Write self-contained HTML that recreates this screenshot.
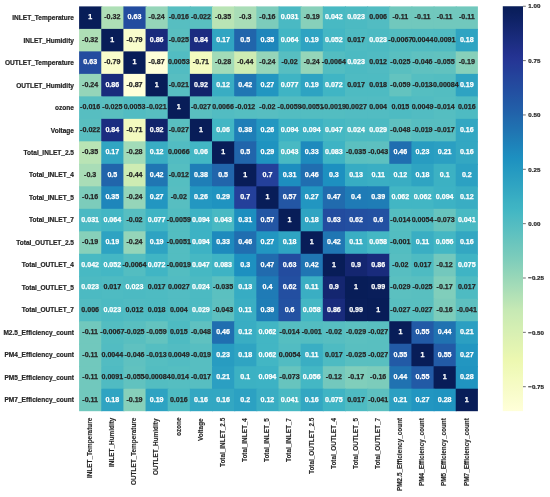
<!DOCTYPE html>
<html><head><meta charset="utf-8"><title>Correlation heatmap</title><style>
html,body{margin:0;padding:0;background:#fff;}
body{width:550px;height:497px;position:relative;overflow:hidden;font-family:"Liberation Sans",Arial,sans-serif;}
#pg{position:absolute;left:0;top:0;width:550px;height:497px;background:#fff;}
svg{position:absolute;left:0;top:0;}
.rl{position:absolute;font-weight:bold;-webkit-text-stroke:0.2px;font-size:6.55px;color:#262626;white-space:nowrap;text-align:right;line-height:1;}
.cl{position:absolute;font-weight:bold;-webkit-text-stroke:0.1px;font-size:6.40px;color:#262626;white-space:nowrap;line-height:1;transform-origin:0 0;transform:rotate(-90deg);}
.tk{position:absolute;height:0.8px;background:#444;}
.tl{position:absolute;font-weight:bold;-webkit-text-stroke:0.2px;font-size:6.20px;color:#262626;white-space:nowrap;line-height:1;}
</style></head><body>

<div id="pg">
<svg width="550" height="497" viewBox="0 0 550 497" font-family="Liberation Sans, Arial, sans-serif" font-weight="bold" font-size="7.10" text-anchor="middle">
<rect x="79.10" y="6.40" width="23.16" height="23.49" fill="#081d58"/>
<rect x="101.26" y="6.40" width="23.16" height="23.49" fill="#aedfb6"/>
<rect x="123.41" y="6.40" width="23.16" height="23.49" fill="#234c9f"/>
<rect x="145.57" y="6.40" width="23.16" height="23.49" fill="#95d5b9"/>
<rect x="167.72" y="6.40" width="23.16" height="23.49" fill="#57bec1"/>
<rect x="189.88" y="6.40" width="23.16" height="23.49" fill="#59bfc0"/>
<rect x="212.03" y="6.40" width="23.16" height="23.49" fill="#b9e4b5"/>
<rect x="234.19" y="6.40" width="23.16" height="23.49" fill="#a9ddb7"/>
<rect x="256.34" y="6.40" width="23.16" height="23.49" fill="#7cccbb"/>
<rect x="278.50" y="6.40" width="23.16" height="23.49" fill="#4ab9c3"/>
<rect x="300.66" y="6.40" width="23.16" height="23.49" fill="#87d0ba"/>
<rect x="322.81" y="6.40" width="23.16" height="23.49" fill="#48b9c3"/>
<rect x="344.97" y="6.40" width="23.16" height="23.49" fill="#4cbac2"/>
<rect x="367.12" y="6.40" width="23.16" height="23.49" fill="#52bcc2"/>
<rect x="389.28" y="6.40" width="23.16" height="23.49" fill="#71c8bd"/>
<rect x="411.43" y="6.40" width="23.16" height="23.49" fill="#71c8bd"/>
<rect x="433.59" y="6.40" width="23.16" height="23.49" fill="#71c8bd"/>
<rect x="455.74" y="6.40" width="22.16" height="23.49" fill="#71c8bd"/>
<rect x="79.10" y="28.89" width="23.16" height="23.49" fill="#aedfb6"/>
<rect x="101.26" y="28.89" width="23.16" height="23.49" fill="#081d58"/>
<rect x="123.41" y="28.89" width="23.16" height="23.49" fill="#f9fdcc"/>
<rect x="145.57" y="28.89" width="23.16" height="23.49" fill="#192b7c"/>
<rect x="167.72" y="28.89" width="23.16" height="23.49" fill="#59bfc0"/>
<rect x="189.88" y="28.89" width="23.16" height="23.49" fill="#1b2c80"/>
<rect x="212.03" y="28.89" width="23.16" height="23.49" fill="#31a5c2"/>
<rect x="234.19" y="28.89" width="23.16" height="23.49" fill="#2165ab"/>
<rect x="256.34" y="28.89" width="23.16" height="23.49" fill="#1e86bb"/>
<rect x="278.50" y="28.89" width="23.16" height="23.49" fill="#42b6c4"/>
<rect x="300.66" y="28.89" width="23.16" height="23.49" fill="#2ea3c2"/>
<rect x="322.81" y="28.89" width="23.16" height="23.49" fill="#44b7c4"/>
<rect x="344.97" y="28.89" width="23.16" height="23.49" fill="#4ebbc2"/>
<rect x="367.12" y="28.89" width="23.16" height="23.49" fill="#4cbac2"/>
<rect x="389.28" y="28.89" width="23.16" height="23.49" fill="#53bdc1"/>
<rect x="411.43" y="28.89" width="23.16" height="23.49" fill="#52bcc2"/>
<rect x="433.59" y="28.89" width="23.16" height="23.49" fill="#50bbc2"/>
<rect x="455.74" y="28.89" width="22.16" height="23.49" fill="#2fa4c2"/>
<rect x="79.10" y="51.38" width="23.16" height="23.49" fill="#234c9f"/>
<rect x="101.26" y="51.38" width="23.16" height="23.49" fill="#f9fdcc"/>
<rect x="123.41" y="51.38" width="23.16" height="23.49" fill="#081d58"/>
<rect x="145.57" y="51.38" width="23.16" height="23.49" fill="#ffffd9"/>
<rect x="167.72" y="51.38" width="23.16" height="23.49" fill="#52bcc2"/>
<rect x="189.88" y="51.38" width="23.16" height="23.49" fill="#f3fabf"/>
<rect x="212.03" y="51.38" width="23.16" height="23.49" fill="#a2dbb8"/>
<rect x="234.19" y="51.38" width="23.16" height="23.49" fill="#ceecb3"/>
<rect x="256.34" y="51.38" width="23.16" height="23.49" fill="#95d5b9"/>
<rect x="278.50" y="51.38" width="23.16" height="23.49" fill="#57bec1"/>
<rect x="300.66" y="51.38" width="23.16" height="23.49" fill="#95d5b9"/>
<rect x="322.81" y="51.38" width="23.16" height="23.49" fill="#53bdc1"/>
<rect x="344.97" y="51.38" width="23.16" height="23.49" fill="#4cbac2"/>
<rect x="367.12" y="51.38" width="23.16" height="23.49" fill="#50bbc2"/>
<rect x="389.28" y="51.38" width="23.16" height="23.49" fill="#59bfc0"/>
<rect x="411.43" y="51.38" width="23.16" height="23.49" fill="#5fc1c0"/>
<rect x="433.59" y="51.38" width="23.16" height="23.49" fill="#61c2bf"/>
<rect x="455.74" y="51.38" width="22.16" height="23.49" fill="#87d0ba"/>
<rect x="79.10" y="73.87" width="23.16" height="23.49" fill="#95d5b9"/>
<rect x="101.26" y="73.87" width="23.16" height="23.49" fill="#192b7c"/>
<rect x="123.41" y="73.87" width="23.16" height="23.49" fill="#ffffd9"/>
<rect x="145.57" y="73.87" width="23.16" height="23.49" fill="#081d58"/>
<rect x="167.72" y="73.87" width="23.16" height="23.49" fill="#57bec1"/>
<rect x="189.88" y="73.87" width="23.16" height="23.49" fill="#11246b"/>
<rect x="212.03" y="73.87" width="23.16" height="23.49" fill="#39adc3"/>
<rect x="234.19" y="73.87" width="23.16" height="23.49" fill="#2076b3"/>
<rect x="256.34" y="73.87" width="23.16" height="23.49" fill="#2296c1"/>
<rect x="278.50" y="73.87" width="23.16" height="23.49" fill="#3fb4c4"/>
<rect x="300.66" y="73.87" width="23.16" height="23.49" fill="#2ea3c2"/>
<rect x="322.81" y="73.87" width="23.16" height="23.49" fill="#40b5c4"/>
<rect x="344.97" y="73.87" width="23.16" height="23.49" fill="#4ebbc2"/>
<rect x="367.12" y="73.87" width="23.16" height="23.49" fill="#4ebbc2"/>
<rect x="389.28" y="73.87" width="23.16" height="23.49" fill="#63c3bf"/>
<rect x="411.43" y="73.87" width="23.16" height="23.49" fill="#55bec1"/>
<rect x="433.59" y="73.87" width="23.16" height="23.49" fill="#53bdc1"/>
<rect x="455.74" y="73.87" width="22.16" height="23.49" fill="#2ea3c2"/>
<rect x="79.10" y="96.36" width="23.16" height="23.49" fill="#57bec1"/>
<rect x="101.26" y="96.36" width="23.16" height="23.49" fill="#59bfc0"/>
<rect x="123.41" y="96.36" width="23.16" height="23.49" fill="#52bcc2"/>
<rect x="145.57" y="96.36" width="23.16" height="23.49" fill="#57bec1"/>
<rect x="167.72" y="96.36" width="23.16" height="23.49" fill="#081d58"/>
<rect x="189.88" y="96.36" width="23.16" height="23.49" fill="#59bfc0"/>
<rect x="212.03" y="96.36" width="23.16" height="23.49" fill="#52bcc2"/>
<rect x="234.19" y="96.36" width="23.16" height="23.49" fill="#55bec1"/>
<rect x="256.34" y="96.36" width="23.16" height="23.49" fill="#57bec1"/>
<rect x="278.50" y="96.36" width="23.16" height="23.49" fill="#53bdc1"/>
<rect x="300.66" y="96.36" width="23.16" height="23.49" fill="#53bdc1"/>
<rect x="322.81" y="96.36" width="23.16" height="23.49" fill="#53bdc1"/>
<rect x="344.97" y="96.36" width="23.16" height="23.49" fill="#52bcc2"/>
<rect x="367.12" y="96.36" width="23.16" height="23.49" fill="#52bcc2"/>
<rect x="389.28" y="96.36" width="23.16" height="23.49" fill="#4ebbc2"/>
<rect x="411.43" y="96.36" width="23.16" height="23.49" fill="#52bcc2"/>
<rect x="433.59" y="96.36" width="23.16" height="23.49" fill="#55bec1"/>
<rect x="455.74" y="96.36" width="22.16" height="23.49" fill="#4ebbc2"/>
<rect x="79.10" y="118.84" width="23.16" height="23.49" fill="#59bfc0"/>
<rect x="101.26" y="118.84" width="23.16" height="23.49" fill="#1b2c80"/>
<rect x="123.41" y="118.84" width="23.16" height="23.49" fill="#f3fabf"/>
<rect x="145.57" y="118.84" width="23.16" height="23.49" fill="#11246b"/>
<rect x="167.72" y="118.84" width="23.16" height="23.49" fill="#59bfc0"/>
<rect x="189.88" y="118.84" width="23.16" height="23.49" fill="#081d58"/>
<rect x="212.03" y="118.84" width="23.16" height="23.49" fill="#42b6c4"/>
<rect x="234.19" y="118.84" width="23.16" height="23.49" fill="#1f7eb7"/>
<rect x="256.34" y="118.84" width="23.16" height="23.49" fill="#2397c1"/>
<rect x="278.50" y="118.84" width="23.16" height="23.49" fill="#3db2c4"/>
<rect x="300.66" y="118.84" width="23.16" height="23.49" fill="#3db2c4"/>
<rect x="322.81" y="118.84" width="23.16" height="23.49" fill="#46b8c3"/>
<rect x="344.97" y="118.84" width="23.16" height="23.49" fill="#4cbac2"/>
<rect x="367.12" y="118.84" width="23.16" height="23.49" fill="#4cbac2"/>
<rect x="389.28" y="118.84" width="23.16" height="23.49" fill="#5fc1c0"/>
<rect x="411.43" y="118.84" width="23.16" height="23.49" fill="#57bec1"/>
<rect x="433.59" y="118.84" width="23.16" height="23.49" fill="#57bec1"/>
<rect x="455.74" y="118.84" width="22.16" height="23.49" fill="#33a7c2"/>
<rect x="79.10" y="141.33" width="23.16" height="23.49" fill="#b9e4b5"/>
<rect x="101.26" y="141.33" width="23.16" height="23.49" fill="#31a5c2"/>
<rect x="123.41" y="141.33" width="23.16" height="23.49" fill="#a2dbb8"/>
<rect x="145.57" y="141.33" width="23.16" height="23.49" fill="#39adc3"/>
<rect x="167.72" y="141.33" width="23.16" height="23.49" fill="#52bcc2"/>
<rect x="189.88" y="141.33" width="23.16" height="23.49" fill="#42b6c4"/>
<rect x="212.03" y="141.33" width="23.16" height="23.49" fill="#081d58"/>
<rect x="234.19" y="141.33" width="23.16" height="23.49" fill="#2165ab"/>
<rect x="256.34" y="141.33" width="23.16" height="23.49" fill="#1f93c0"/>
<rect x="278.50" y="141.33" width="23.16" height="23.49" fill="#48b9c3"/>
<rect x="300.66" y="141.33" width="23.16" height="23.49" fill="#1e8abd"/>
<rect x="322.81" y="141.33" width="23.16" height="23.49" fill="#3eb3c4"/>
<rect x="344.97" y="141.33" width="23.16" height="23.49" fill="#5bc0c0"/>
<rect x="367.12" y="141.33" width="23.16" height="23.49" fill="#5dc0c0"/>
<rect x="389.28" y="141.33" width="23.16" height="23.49" fill="#206eb0"/>
<rect x="411.43" y="141.33" width="23.16" height="23.49" fill="#289cc1"/>
<rect x="433.59" y="141.33" width="23.16" height="23.49" fill="#2b9fc2"/>
<rect x="455.74" y="141.33" width="22.16" height="23.49" fill="#33a7c2"/>
<rect x="79.10" y="163.82" width="23.16" height="23.49" fill="#a9ddb7"/>
<rect x="101.26" y="163.82" width="23.16" height="23.49" fill="#2165ab"/>
<rect x="123.41" y="163.82" width="23.16" height="23.49" fill="#ceecb3"/>
<rect x="145.57" y="163.82" width="23.16" height="23.49" fill="#2076b3"/>
<rect x="167.72" y="163.82" width="23.16" height="23.49" fill="#55bec1"/>
<rect x="189.88" y="163.82" width="23.16" height="23.49" fill="#1f7eb7"/>
<rect x="212.03" y="163.82" width="23.16" height="23.49" fill="#2165ab"/>
<rect x="234.19" y="163.82" width="23.16" height="23.49" fill="#081d58"/>
<rect x="256.34" y="163.82" width="23.16" height="23.49" fill="#24409a"/>
<rect x="278.50" y="163.82" width="23.16" height="23.49" fill="#1d8ebf"/>
<rect x="300.66" y="163.82" width="23.16" height="23.49" fill="#206eb0"/>
<rect x="322.81" y="163.82" width="23.16" height="23.49" fill="#1d90c0"/>
<rect x="344.97" y="163.82" width="23.16" height="23.49" fill="#37acc3"/>
<rect x="367.12" y="163.82" width="23.16" height="23.49" fill="#3aaec3"/>
<rect x="389.28" y="163.82" width="23.16" height="23.49" fill="#39adc3"/>
<rect x="411.43" y="163.82" width="23.16" height="23.49" fill="#2fa4c2"/>
<rect x="433.59" y="163.82" width="23.16" height="23.49" fill="#3cb1c3"/>
<rect x="455.74" y="163.82" width="22.16" height="23.49" fill="#2ca1c2"/>
<rect x="79.10" y="186.31" width="23.16" height="23.49" fill="#7cccbb"/>
<rect x="101.26" y="186.31" width="23.16" height="23.49" fill="#1e86bb"/>
<rect x="123.41" y="186.31" width="23.16" height="23.49" fill="#95d5b9"/>
<rect x="145.57" y="186.31" width="23.16" height="23.49" fill="#2296c1"/>
<rect x="167.72" y="186.31" width="23.16" height="23.49" fill="#57bec1"/>
<rect x="189.88" y="186.31" width="23.16" height="23.49" fill="#2397c1"/>
<rect x="212.03" y="186.31" width="23.16" height="23.49" fill="#1f93c0"/>
<rect x="234.19" y="186.31" width="23.16" height="23.49" fill="#24409a"/>
<rect x="256.34" y="186.31" width="23.16" height="23.49" fill="#081d58"/>
<rect x="278.50" y="186.31" width="23.16" height="23.49" fill="#2356a4"/>
<rect x="300.66" y="186.31" width="23.16" height="23.49" fill="#2296c1"/>
<rect x="322.81" y="186.31" width="23.16" height="23.49" fill="#216bae"/>
<rect x="344.97" y="186.31" width="23.16" height="23.49" fill="#1f7bb6"/>
<rect x="367.12" y="186.31" width="23.16" height="23.49" fill="#1f7db6"/>
<rect x="389.28" y="186.31" width="23.16" height="23.49" fill="#42b6c4"/>
<rect x="411.43" y="186.31" width="23.16" height="23.49" fill="#42b6c4"/>
<rect x="433.59" y="186.31" width="23.16" height="23.49" fill="#3db2c4"/>
<rect x="455.74" y="186.31" width="22.16" height="23.49" fill="#39adc3"/>
<rect x="79.10" y="208.80" width="23.16" height="23.49" fill="#4ab9c3"/>
<rect x="101.26" y="208.80" width="23.16" height="23.49" fill="#42b6c4"/>
<rect x="123.41" y="208.80" width="23.16" height="23.49" fill="#57bec1"/>
<rect x="145.57" y="208.80" width="23.16" height="23.49" fill="#3fb4c4"/>
<rect x="167.72" y="208.80" width="23.16" height="23.49" fill="#53bdc1"/>
<rect x="189.88" y="208.80" width="23.16" height="23.49" fill="#3db2c4"/>
<rect x="212.03" y="208.80" width="23.16" height="23.49" fill="#48b9c3"/>
<rect x="234.19" y="208.80" width="23.16" height="23.49" fill="#1d8ebf"/>
<rect x="256.34" y="208.80" width="23.16" height="23.49" fill="#2356a4"/>
<rect x="278.50" y="208.80" width="23.16" height="23.49" fill="#081d58"/>
<rect x="300.66" y="208.80" width="23.16" height="23.49" fill="#2fa4c2"/>
<rect x="322.81" y="208.80" width="23.16" height="23.49" fill="#234c9f"/>
<rect x="344.97" y="208.80" width="23.16" height="23.49" fill="#234fa1"/>
<rect x="367.12" y="208.80" width="23.16" height="23.49" fill="#2351a2"/>
<rect x="389.28" y="208.80" width="23.16" height="23.49" fill="#55bec1"/>
<rect x="411.43" y="208.80" width="23.16" height="23.49" fill="#52bcc2"/>
<rect x="433.59" y="208.80" width="23.16" height="23.49" fill="#67c4be"/>
<rect x="455.74" y="208.80" width="22.16" height="23.49" fill="#48b9c3"/>
<rect x="79.10" y="231.29" width="23.16" height="23.49" fill="#87d0ba"/>
<rect x="101.26" y="231.29" width="23.16" height="23.49" fill="#2ea3c2"/>
<rect x="123.41" y="231.29" width="23.16" height="23.49" fill="#95d5b9"/>
<rect x="145.57" y="231.29" width="23.16" height="23.49" fill="#2ea3c2"/>
<rect x="167.72" y="231.29" width="23.16" height="23.49" fill="#53bdc1"/>
<rect x="189.88" y="231.29" width="23.16" height="23.49" fill="#3db2c4"/>
<rect x="212.03" y="231.29" width="23.16" height="23.49" fill="#1e8abd"/>
<rect x="234.19" y="231.29" width="23.16" height="23.49" fill="#206eb0"/>
<rect x="256.34" y="231.29" width="23.16" height="23.49" fill="#2296c1"/>
<rect x="278.50" y="231.29" width="23.16" height="23.49" fill="#2fa4c2"/>
<rect x="300.66" y="231.29" width="23.16" height="23.49" fill="#081d58"/>
<rect x="322.81" y="231.29" width="23.16" height="23.49" fill="#2076b3"/>
<rect x="344.97" y="231.29" width="23.16" height="23.49" fill="#3aaec3"/>
<rect x="367.12" y="231.29" width="23.16" height="23.49" fill="#44b7c4"/>
<rect x="389.28" y="231.29" width="23.16" height="23.49" fill="#53bdc1"/>
<rect x="411.43" y="231.29" width="23.16" height="23.49" fill="#3aaec3"/>
<rect x="433.59" y="231.29" width="23.16" height="23.49" fill="#44b7c4"/>
<rect x="455.74" y="231.29" width="22.16" height="23.49" fill="#33a7c2"/>
<rect x="79.10" y="253.78" width="23.16" height="23.49" fill="#48b9c3"/>
<rect x="101.26" y="253.78" width="23.16" height="23.49" fill="#44b7c4"/>
<rect x="123.41" y="253.78" width="23.16" height="23.49" fill="#53bdc1"/>
<rect x="145.57" y="253.78" width="23.16" height="23.49" fill="#40b5c4"/>
<rect x="167.72" y="253.78" width="23.16" height="23.49" fill="#53bdc1"/>
<rect x="189.88" y="253.78" width="23.16" height="23.49" fill="#46b8c3"/>
<rect x="212.03" y="253.78" width="23.16" height="23.49" fill="#3eb3c4"/>
<rect x="234.19" y="253.78" width="23.16" height="23.49" fill="#1d90c0"/>
<rect x="256.34" y="253.78" width="23.16" height="23.49" fill="#216bae"/>
<rect x="278.50" y="253.78" width="23.16" height="23.49" fill="#234c9f"/>
<rect x="300.66" y="253.78" width="23.16" height="23.49" fill="#2076b3"/>
<rect x="322.81" y="253.78" width="23.16" height="23.49" fill="#081d58"/>
<rect x="344.97" y="253.78" width="23.16" height="23.49" fill="#142670"/>
<rect x="367.12" y="253.78" width="23.16" height="23.49" fill="#192b7c"/>
<rect x="389.28" y="253.78" width="23.16" height="23.49" fill="#57bec1"/>
<rect x="411.43" y="253.78" width="23.16" height="23.49" fill="#4ebbc2"/>
<rect x="433.59" y="253.78" width="23.16" height="23.49" fill="#73c8bd"/>
<rect x="455.74" y="253.78" width="22.16" height="23.49" fill="#3fb4c4"/>
<rect x="79.10" y="276.27" width="23.16" height="23.49" fill="#4cbac2"/>
<rect x="101.26" y="276.27" width="23.16" height="23.49" fill="#4ebbc2"/>
<rect x="123.41" y="276.27" width="23.16" height="23.49" fill="#4cbac2"/>
<rect x="145.57" y="276.27" width="23.16" height="23.49" fill="#4ebbc2"/>
<rect x="167.72" y="276.27" width="23.16" height="23.49" fill="#52bcc2"/>
<rect x="189.88" y="276.27" width="23.16" height="23.49" fill="#4cbac2"/>
<rect x="212.03" y="276.27" width="23.16" height="23.49" fill="#5bc0c0"/>
<rect x="234.19" y="276.27" width="23.16" height="23.49" fill="#37acc3"/>
<rect x="256.34" y="276.27" width="23.16" height="23.49" fill="#1f7bb6"/>
<rect x="278.50" y="276.27" width="23.16" height="23.49" fill="#234fa1"/>
<rect x="300.66" y="276.27" width="23.16" height="23.49" fill="#3aaec3"/>
<rect x="322.81" y="276.27" width="23.16" height="23.49" fill="#142670"/>
<rect x="344.97" y="276.27" width="23.16" height="23.49" fill="#081d58"/>
<rect x="367.12" y="276.27" width="23.16" height="23.49" fill="#091e5a"/>
<rect x="389.28" y="276.27" width="23.16" height="23.49" fill="#5bc0c0"/>
<rect x="411.43" y="276.27" width="23.16" height="23.49" fill="#59bfc0"/>
<rect x="433.59" y="276.27" width="23.16" height="23.49" fill="#80cebb"/>
<rect x="455.74" y="276.27" width="22.16" height="23.49" fill="#4ebbc2"/>
<rect x="79.10" y="298.76" width="23.16" height="23.49" fill="#52bcc2"/>
<rect x="101.26" y="298.76" width="23.16" height="23.49" fill="#4cbac2"/>
<rect x="123.41" y="298.76" width="23.16" height="23.49" fill="#50bbc2"/>
<rect x="145.57" y="298.76" width="23.16" height="23.49" fill="#4ebbc2"/>
<rect x="167.72" y="298.76" width="23.16" height="23.49" fill="#52bcc2"/>
<rect x="189.88" y="298.76" width="23.16" height="23.49" fill="#4cbac2"/>
<rect x="212.03" y="298.76" width="23.16" height="23.49" fill="#5dc0c0"/>
<rect x="234.19" y="298.76" width="23.16" height="23.49" fill="#3aaec3"/>
<rect x="256.34" y="298.76" width="23.16" height="23.49" fill="#1f7db6"/>
<rect x="278.50" y="298.76" width="23.16" height="23.49" fill="#2351a2"/>
<rect x="300.66" y="298.76" width="23.16" height="23.49" fill="#44b7c4"/>
<rect x="322.81" y="298.76" width="23.16" height="23.49" fill="#192b7c"/>
<rect x="344.97" y="298.76" width="23.16" height="23.49" fill="#091e5a"/>
<rect x="367.12" y="298.76" width="23.16" height="23.49" fill="#081d58"/>
<rect x="389.28" y="298.76" width="23.16" height="23.49" fill="#59bfc0"/>
<rect x="411.43" y="298.76" width="23.16" height="23.49" fill="#59bfc0"/>
<rect x="433.59" y="298.76" width="23.16" height="23.49" fill="#7cccbb"/>
<rect x="455.74" y="298.76" width="22.16" height="23.49" fill="#5dc0c0"/>
<rect x="79.10" y="321.24" width="23.16" height="23.49" fill="#71c8bd"/>
<rect x="101.26" y="321.24" width="23.16" height="23.49" fill="#53bdc1"/>
<rect x="123.41" y="321.24" width="23.16" height="23.49" fill="#59bfc0"/>
<rect x="145.57" y="321.24" width="23.16" height="23.49" fill="#63c3bf"/>
<rect x="167.72" y="321.24" width="23.16" height="23.49" fill="#4ebbc2"/>
<rect x="189.88" y="321.24" width="23.16" height="23.49" fill="#5fc1c0"/>
<rect x="212.03" y="321.24" width="23.16" height="23.49" fill="#206eb0"/>
<rect x="234.19" y="321.24" width="23.16" height="23.49" fill="#39adc3"/>
<rect x="256.34" y="321.24" width="23.16" height="23.49" fill="#42b6c4"/>
<rect x="278.50" y="321.24" width="23.16" height="23.49" fill="#55bec1"/>
<rect x="300.66" y="321.24" width="23.16" height="23.49" fill="#53bdc1"/>
<rect x="322.81" y="321.24" width="23.16" height="23.49" fill="#57bec1"/>
<rect x="344.97" y="321.24" width="23.16" height="23.49" fill="#5bc0c0"/>
<rect x="367.12" y="321.24" width="23.16" height="23.49" fill="#59bfc0"/>
<rect x="389.28" y="321.24" width="23.16" height="23.49" fill="#081d58"/>
<rect x="411.43" y="321.24" width="23.16" height="23.49" fill="#225aa6"/>
<rect x="433.59" y="321.24" width="23.16" height="23.49" fill="#2072b1"/>
<rect x="455.74" y="321.24" width="22.16" height="23.49" fill="#2b9fc2"/>
<rect x="79.10" y="343.73" width="23.16" height="23.49" fill="#71c8bd"/>
<rect x="101.26" y="343.73" width="23.16" height="23.49" fill="#52bcc2"/>
<rect x="123.41" y="343.73" width="23.16" height="23.49" fill="#5fc1c0"/>
<rect x="145.57" y="343.73" width="23.16" height="23.49" fill="#55bec1"/>
<rect x="167.72" y="343.73" width="23.16" height="23.49" fill="#52bcc2"/>
<rect x="189.88" y="343.73" width="23.16" height="23.49" fill="#57bec1"/>
<rect x="212.03" y="343.73" width="23.16" height="23.49" fill="#289cc1"/>
<rect x="234.19" y="343.73" width="23.16" height="23.49" fill="#2fa4c2"/>
<rect x="256.34" y="343.73" width="23.16" height="23.49" fill="#42b6c4"/>
<rect x="278.50" y="343.73" width="23.16" height="23.49" fill="#52bcc2"/>
<rect x="300.66" y="343.73" width="23.16" height="23.49" fill="#3aaec3"/>
<rect x="322.81" y="343.73" width="23.16" height="23.49" fill="#4ebbc2"/>
<rect x="344.97" y="343.73" width="23.16" height="23.49" fill="#59bfc0"/>
<rect x="367.12" y="343.73" width="23.16" height="23.49" fill="#59bfc0"/>
<rect x="389.28" y="343.73" width="23.16" height="23.49" fill="#225aa6"/>
<rect x="411.43" y="343.73" width="23.16" height="23.49" fill="#081d58"/>
<rect x="433.59" y="343.73" width="23.16" height="23.49" fill="#225aa6"/>
<rect x="455.74" y="343.73" width="22.16" height="23.49" fill="#2296c1"/>
<rect x="79.10" y="366.22" width="23.16" height="23.49" fill="#71c8bd"/>
<rect x="101.26" y="366.22" width="23.16" height="23.49" fill="#50bbc2"/>
<rect x="123.41" y="366.22" width="23.16" height="23.49" fill="#61c2bf"/>
<rect x="145.57" y="366.22" width="23.16" height="23.49" fill="#53bdc1"/>
<rect x="167.72" y="366.22" width="23.16" height="23.49" fill="#55bec1"/>
<rect x="189.88" y="366.22" width="23.16" height="23.49" fill="#57bec1"/>
<rect x="212.03" y="366.22" width="23.16" height="23.49" fill="#2b9fc2"/>
<rect x="234.19" y="366.22" width="23.16" height="23.49" fill="#3cb1c3"/>
<rect x="256.34" y="366.22" width="23.16" height="23.49" fill="#3db2c4"/>
<rect x="278.50" y="366.22" width="23.16" height="23.49" fill="#67c4be"/>
<rect x="300.66" y="366.22" width="23.16" height="23.49" fill="#44b7c4"/>
<rect x="322.81" y="366.22" width="23.16" height="23.49" fill="#73c8bd"/>
<rect x="344.97" y="366.22" width="23.16" height="23.49" fill="#80cebb"/>
<rect x="367.12" y="366.22" width="23.16" height="23.49" fill="#7cccbb"/>
<rect x="389.28" y="366.22" width="23.16" height="23.49" fill="#2072b1"/>
<rect x="411.43" y="366.22" width="23.16" height="23.49" fill="#225aa6"/>
<rect x="433.59" y="366.22" width="23.16" height="23.49" fill="#081d58"/>
<rect x="455.74" y="366.22" width="22.16" height="23.49" fill="#2094c0"/>
<rect x="79.10" y="388.71" width="23.16" height="22.49" fill="#71c8bd"/>
<rect x="101.26" y="388.71" width="23.16" height="22.49" fill="#2fa4c2"/>
<rect x="123.41" y="388.71" width="23.16" height="22.49" fill="#87d0ba"/>
<rect x="145.57" y="388.71" width="23.16" height="22.49" fill="#2ea3c2"/>
<rect x="167.72" y="388.71" width="23.16" height="22.49" fill="#4ebbc2"/>
<rect x="189.88" y="388.71" width="23.16" height="22.49" fill="#33a7c2"/>
<rect x="212.03" y="388.71" width="23.16" height="22.49" fill="#33a7c2"/>
<rect x="234.19" y="388.71" width="23.16" height="22.49" fill="#2ca1c2"/>
<rect x="256.34" y="388.71" width="23.16" height="22.49" fill="#39adc3"/>
<rect x="278.50" y="388.71" width="23.16" height="22.49" fill="#48b9c3"/>
<rect x="300.66" y="388.71" width="23.16" height="22.49" fill="#33a7c2"/>
<rect x="322.81" y="388.71" width="23.16" height="22.49" fill="#3fb4c4"/>
<rect x="344.97" y="388.71" width="23.16" height="22.49" fill="#4ebbc2"/>
<rect x="367.12" y="388.71" width="23.16" height="22.49" fill="#5dc0c0"/>
<rect x="389.28" y="388.71" width="23.16" height="22.49" fill="#2b9fc2"/>
<rect x="411.43" y="388.71" width="23.16" height="22.49" fill="#2296c1"/>
<rect x="433.59" y="388.71" width="23.16" height="22.49" fill="#2094c0"/>
<rect x="455.74" y="388.71" width="22.16" height="22.49" fill="#081d58"/>
<text x="90.18" y="19.49" fill="#ffffff" stroke="#ffffff" stroke-width="0.25">1</text>
<text x="112.33" y="19.49" fill="#262626" stroke="#262626" stroke-width="0.25">-0.32</text>
<text x="134.49" y="19.49" fill="#ffffff" stroke="#ffffff" stroke-width="0.25">0.63</text>
<text x="156.64" y="19.49" fill="#262626" stroke="#262626" stroke-width="0.25">-0.24</text>
<text x="178.80" y="19.49" fill="#262626" stroke="#262626" stroke-width="0.25">-0.016</text>
<text x="200.96" y="19.49" fill="#262626" stroke="#262626" stroke-width="0.25">-0.022</text>
<text x="223.11" y="19.49" fill="#262626" stroke="#262626" stroke-width="0.25">-0.35</text>
<text x="245.27" y="19.49" fill="#262626" stroke="#262626" stroke-width="0.25">-0.3</text>
<text x="267.42" y="19.49" fill="#262626" stroke="#262626" stroke-width="0.25">-0.16</text>
<text x="289.58" y="19.49" fill="#ffffff" stroke="#ffffff" stroke-width="0.25">0.031</text>
<text x="311.73" y="19.49" fill="#262626" stroke="#262626" stroke-width="0.25">-0.19</text>
<text x="333.89" y="19.49" fill="#ffffff" stroke="#ffffff" stroke-width="0.25">0.042</text>
<text x="356.04" y="19.49" fill="#ffffff" stroke="#ffffff" stroke-width="0.25">0.023</text>
<text x="378.20" y="19.49" fill="#262626" stroke="#262626" stroke-width="0.25">0.006</text>
<text x="400.36" y="19.49" fill="#262626" stroke="#262626" stroke-width="0.25">-0.11</text>
<text x="422.51" y="19.49" fill="#262626" stroke="#262626" stroke-width="0.25">-0.11</text>
<text x="444.67" y="19.49" fill="#262626" stroke="#262626" stroke-width="0.25">-0.11</text>
<text x="466.82" y="19.49" fill="#262626" stroke="#262626" stroke-width="0.25">-0.11</text>
<text x="90.18" y="41.98" fill="#262626" stroke="#262626" stroke-width="0.25">-0.32</text>
<text x="112.33" y="41.98" fill="#ffffff" stroke="#ffffff" stroke-width="0.25">1</text>
<text x="134.49" y="41.98" fill="#262626" stroke="#262626" stroke-width="0.25">-0.79</text>
<text x="156.64" y="41.98" fill="#ffffff" stroke="#ffffff" stroke-width="0.25">0.86</text>
<text x="178.80" y="41.98" fill="#262626" stroke="#262626" stroke-width="0.25">-0.025</text>
<text x="200.96" y="41.98" fill="#ffffff" stroke="#ffffff" stroke-width="0.25">0.84</text>
<text x="223.11" y="41.98" fill="#ffffff" stroke="#ffffff" stroke-width="0.25">0.17</text>
<text x="245.27" y="41.98" fill="#ffffff" stroke="#ffffff" stroke-width="0.25">0.5</text>
<text x="267.42" y="41.98" fill="#ffffff" stroke="#ffffff" stroke-width="0.25">0.35</text>
<text x="289.58" y="41.98" fill="#ffffff" stroke="#ffffff" stroke-width="0.25">0.064</text>
<text x="311.73" y="41.98" fill="#ffffff" stroke="#ffffff" stroke-width="0.25">0.19</text>
<text x="333.89" y="41.98" fill="#ffffff" stroke="#ffffff" stroke-width="0.25">0.052</text>
<text x="356.04" y="41.98" fill="#262626" stroke="#262626" stroke-width="0.25">0.017</text>
<text x="378.20" y="41.98" fill="#ffffff" stroke="#ffffff" stroke-width="0.25">0.023</text>
<text x="400.36" y="41.98" fill="#262626" stroke="#262626" stroke-width="0.25">-0.0067</text>
<text x="422.51" y="41.98" fill="#262626" stroke="#262626" stroke-width="0.25">0.0044</text>
<text x="444.67" y="41.98" fill="#262626" stroke="#262626" stroke-width="0.25">0.0091</text>
<text x="466.82" y="41.98" fill="#ffffff" stroke="#ffffff" stroke-width="0.25">0.18</text>
<text x="90.18" y="64.47" fill="#ffffff" stroke="#ffffff" stroke-width="0.25">0.63</text>
<text x="112.33" y="64.47" fill="#262626" stroke="#262626" stroke-width="0.25">-0.79</text>
<text x="134.49" y="64.47" fill="#ffffff" stroke="#ffffff" stroke-width="0.25">1</text>
<text x="156.64" y="64.47" fill="#262626" stroke="#262626" stroke-width="0.25">-0.87</text>
<text x="178.80" y="64.47" fill="#262626" stroke="#262626" stroke-width="0.25">0.0053</text>
<text x="200.96" y="64.47" fill="#262626" stroke="#262626" stroke-width="0.25">-0.71</text>
<text x="223.11" y="64.47" fill="#262626" stroke="#262626" stroke-width="0.25">-0.28</text>
<text x="245.27" y="64.47" fill="#262626" stroke="#262626" stroke-width="0.25">-0.44</text>
<text x="267.42" y="64.47" fill="#262626" stroke="#262626" stroke-width="0.25">-0.24</text>
<text x="289.58" y="64.47" fill="#262626" stroke="#262626" stroke-width="0.25">-0.02</text>
<text x="311.73" y="64.47" fill="#262626" stroke="#262626" stroke-width="0.25">-0.24</text>
<text x="333.89" y="64.47" fill="#262626" stroke="#262626" stroke-width="0.25">-0.0064</text>
<text x="356.04" y="64.47" fill="#ffffff" stroke="#ffffff" stroke-width="0.25">0.023</text>
<text x="378.20" y="64.47" fill="#262626" stroke="#262626" stroke-width="0.25">0.012</text>
<text x="400.36" y="64.47" fill="#262626" stroke="#262626" stroke-width="0.25">-0.025</text>
<text x="422.51" y="64.47" fill="#262626" stroke="#262626" stroke-width="0.25">-0.046</text>
<text x="444.67" y="64.47" fill="#262626" stroke="#262626" stroke-width="0.25">-0.055</text>
<text x="466.82" y="64.47" fill="#262626" stroke="#262626" stroke-width="0.25">-0.19</text>
<text x="90.18" y="86.96" fill="#262626" stroke="#262626" stroke-width="0.25">-0.24</text>
<text x="112.33" y="86.96" fill="#ffffff" stroke="#ffffff" stroke-width="0.25">0.86</text>
<text x="134.49" y="86.96" fill="#262626" stroke="#262626" stroke-width="0.25">-0.87</text>
<text x="156.64" y="86.96" fill="#ffffff" stroke="#ffffff" stroke-width="0.25">1</text>
<text x="178.80" y="86.96" fill="#262626" stroke="#262626" stroke-width="0.25">-0.021</text>
<text x="200.96" y="86.96" fill="#ffffff" stroke="#ffffff" stroke-width="0.25">0.92</text>
<text x="223.11" y="86.96" fill="#ffffff" stroke="#ffffff" stroke-width="0.25">0.12</text>
<text x="245.27" y="86.96" fill="#ffffff" stroke="#ffffff" stroke-width="0.25">0.42</text>
<text x="267.42" y="86.96" fill="#ffffff" stroke="#ffffff" stroke-width="0.25">0.27</text>
<text x="289.58" y="86.96" fill="#ffffff" stroke="#ffffff" stroke-width="0.25">0.077</text>
<text x="311.73" y="86.96" fill="#ffffff" stroke="#ffffff" stroke-width="0.25">0.19</text>
<text x="333.89" y="86.96" fill="#ffffff" stroke="#ffffff" stroke-width="0.25">0.072</text>
<text x="356.04" y="86.96" fill="#262626" stroke="#262626" stroke-width="0.25">0.017</text>
<text x="378.20" y="86.96" fill="#262626" stroke="#262626" stroke-width="0.25">0.018</text>
<text x="400.36" y="86.96" fill="#262626" stroke="#262626" stroke-width="0.25">-0.059</text>
<text x="422.51" y="86.96" fill="#262626" stroke="#262626" stroke-width="0.25">-0.013</text>
<text x="444.67" y="86.96" fill="#262626" stroke="#262626" stroke-width="0.25">-0.00084</text>
<text x="466.82" y="86.96" fill="#ffffff" stroke="#ffffff" stroke-width="0.25">0.19</text>
<text x="90.18" y="109.45" fill="#262626" stroke="#262626" stroke-width="0.25">-0.016</text>
<text x="112.33" y="109.45" fill="#262626" stroke="#262626" stroke-width="0.25">-0.025</text>
<text x="134.49" y="109.45" fill="#262626" stroke="#262626" stroke-width="0.25">0.0053</text>
<text x="156.64" y="109.45" fill="#262626" stroke="#262626" stroke-width="0.25">-0.021</text>
<text x="178.80" y="109.45" fill="#ffffff" stroke="#ffffff" stroke-width="0.25">1</text>
<text x="200.96" y="109.45" fill="#262626" stroke="#262626" stroke-width="0.25">-0.027</text>
<text x="223.11" y="109.45" fill="#262626" stroke="#262626" stroke-width="0.25">0.0066</text>
<text x="245.27" y="109.45" fill="#262626" stroke="#262626" stroke-width="0.25">-0.012</text>
<text x="267.42" y="109.45" fill="#262626" stroke="#262626" stroke-width="0.25">-0.02</text>
<text x="289.58" y="109.45" fill="#262626" stroke="#262626" stroke-width="0.25">-0.0059</text>
<text x="311.73" y="109.45" fill="#262626" stroke="#262626" stroke-width="0.25">-0.0051</text>
<text x="333.89" y="109.45" fill="#262626" stroke="#262626" stroke-width="0.25">-0.0019</text>
<text x="356.04" y="109.45" fill="#262626" stroke="#262626" stroke-width="0.25">0.0027</text>
<text x="378.20" y="109.45" fill="#262626" stroke="#262626" stroke-width="0.25">0.004</text>
<text x="400.36" y="109.45" fill="#262626" stroke="#262626" stroke-width="0.25">0.015</text>
<text x="422.51" y="109.45" fill="#262626" stroke="#262626" stroke-width="0.25">0.0049</text>
<text x="444.67" y="109.45" fill="#262626" stroke="#262626" stroke-width="0.25">-0.014</text>
<text x="466.82" y="109.45" fill="#262626" stroke="#262626" stroke-width="0.25">0.016</text>
<text x="90.18" y="131.94" fill="#262626" stroke="#262626" stroke-width="0.25">-0.022</text>
<text x="112.33" y="131.94" fill="#ffffff" stroke="#ffffff" stroke-width="0.25">0.84</text>
<text x="134.49" y="131.94" fill="#262626" stroke="#262626" stroke-width="0.25">-0.71</text>
<text x="156.64" y="131.94" fill="#ffffff" stroke="#ffffff" stroke-width="0.25">0.92</text>
<text x="178.80" y="131.94" fill="#262626" stroke="#262626" stroke-width="0.25">-0.027</text>
<text x="200.96" y="131.94" fill="#ffffff" stroke="#ffffff" stroke-width="0.25">1</text>
<text x="223.11" y="131.94" fill="#ffffff" stroke="#ffffff" stroke-width="0.25">0.06</text>
<text x="245.27" y="131.94" fill="#ffffff" stroke="#ffffff" stroke-width="0.25">0.38</text>
<text x="267.42" y="131.94" fill="#ffffff" stroke="#ffffff" stroke-width="0.25">0.26</text>
<text x="289.58" y="131.94" fill="#ffffff" stroke="#ffffff" stroke-width="0.25">0.094</text>
<text x="311.73" y="131.94" fill="#ffffff" stroke="#ffffff" stroke-width="0.25">0.094</text>
<text x="333.89" y="131.94" fill="#ffffff" stroke="#ffffff" stroke-width="0.25">0.047</text>
<text x="356.04" y="131.94" fill="#ffffff" stroke="#ffffff" stroke-width="0.25">0.024</text>
<text x="378.20" y="131.94" fill="#ffffff" stroke="#ffffff" stroke-width="0.25">0.029</text>
<text x="400.36" y="131.94" fill="#262626" stroke="#262626" stroke-width="0.25">-0.048</text>
<text x="422.51" y="131.94" fill="#262626" stroke="#262626" stroke-width="0.25">-0.019</text>
<text x="444.67" y="131.94" fill="#262626" stroke="#262626" stroke-width="0.25">-0.017</text>
<text x="466.82" y="131.94" fill="#ffffff" stroke="#ffffff" stroke-width="0.25">0.16</text>
<text x="90.18" y="154.43" fill="#262626" stroke="#262626" stroke-width="0.25">-0.35</text>
<text x="112.33" y="154.43" fill="#ffffff" stroke="#ffffff" stroke-width="0.25">0.17</text>
<text x="134.49" y="154.43" fill="#262626" stroke="#262626" stroke-width="0.25">-0.28</text>
<text x="156.64" y="154.43" fill="#ffffff" stroke="#ffffff" stroke-width="0.25">0.12</text>
<text x="178.80" y="154.43" fill="#262626" stroke="#262626" stroke-width="0.25">0.0066</text>
<text x="200.96" y="154.43" fill="#ffffff" stroke="#ffffff" stroke-width="0.25">0.06</text>
<text x="223.11" y="154.43" fill="#ffffff" stroke="#ffffff" stroke-width="0.25">1</text>
<text x="245.27" y="154.43" fill="#ffffff" stroke="#ffffff" stroke-width="0.25">0.5</text>
<text x="267.42" y="154.43" fill="#ffffff" stroke="#ffffff" stroke-width="0.25">0.29</text>
<text x="289.58" y="154.43" fill="#ffffff" stroke="#ffffff" stroke-width="0.25">0.043</text>
<text x="311.73" y="154.43" fill="#ffffff" stroke="#ffffff" stroke-width="0.25">0.33</text>
<text x="333.89" y="154.43" fill="#ffffff" stroke="#ffffff" stroke-width="0.25">0.083</text>
<text x="356.04" y="154.43" fill="#262626" stroke="#262626" stroke-width="0.25">-0.035</text>
<text x="378.20" y="154.43" fill="#262626" stroke="#262626" stroke-width="0.25">-0.043</text>
<text x="400.36" y="154.43" fill="#ffffff" stroke="#ffffff" stroke-width="0.25">0.46</text>
<text x="422.51" y="154.43" fill="#ffffff" stroke="#ffffff" stroke-width="0.25">0.23</text>
<text x="444.67" y="154.43" fill="#ffffff" stroke="#ffffff" stroke-width="0.25">0.21</text>
<text x="466.82" y="154.43" fill="#ffffff" stroke="#ffffff" stroke-width="0.25">0.16</text>
<text x="90.18" y="176.92" fill="#262626" stroke="#262626" stroke-width="0.25">-0.3</text>
<text x="112.33" y="176.92" fill="#ffffff" stroke="#ffffff" stroke-width="0.25">0.5</text>
<text x="134.49" y="176.92" fill="#262626" stroke="#262626" stroke-width="0.25">-0.44</text>
<text x="156.64" y="176.92" fill="#ffffff" stroke="#ffffff" stroke-width="0.25">0.42</text>
<text x="178.80" y="176.92" fill="#262626" stroke="#262626" stroke-width="0.25">-0.012</text>
<text x="200.96" y="176.92" fill="#ffffff" stroke="#ffffff" stroke-width="0.25">0.38</text>
<text x="223.11" y="176.92" fill="#ffffff" stroke="#ffffff" stroke-width="0.25">0.5</text>
<text x="245.27" y="176.92" fill="#ffffff" stroke="#ffffff" stroke-width="0.25">1</text>
<text x="267.42" y="176.92" fill="#ffffff" stroke="#ffffff" stroke-width="0.25">0.7</text>
<text x="289.58" y="176.92" fill="#ffffff" stroke="#ffffff" stroke-width="0.25">0.31</text>
<text x="311.73" y="176.92" fill="#ffffff" stroke="#ffffff" stroke-width="0.25">0.46</text>
<text x="333.89" y="176.92" fill="#ffffff" stroke="#ffffff" stroke-width="0.25">0.3</text>
<text x="356.04" y="176.92" fill="#ffffff" stroke="#ffffff" stroke-width="0.25">0.13</text>
<text x="378.20" y="176.92" fill="#ffffff" stroke="#ffffff" stroke-width="0.25">0.11</text>
<text x="400.36" y="176.92" fill="#ffffff" stroke="#ffffff" stroke-width="0.25">0.12</text>
<text x="422.51" y="176.92" fill="#ffffff" stroke="#ffffff" stroke-width="0.25">0.18</text>
<text x="444.67" y="176.92" fill="#ffffff" stroke="#ffffff" stroke-width="0.25">0.1</text>
<text x="466.82" y="176.92" fill="#ffffff" stroke="#ffffff" stroke-width="0.25">0.2</text>
<text x="90.18" y="199.41" fill="#262626" stroke="#262626" stroke-width="0.25">-0.16</text>
<text x="112.33" y="199.41" fill="#ffffff" stroke="#ffffff" stroke-width="0.25">0.35</text>
<text x="134.49" y="199.41" fill="#262626" stroke="#262626" stroke-width="0.25">-0.24</text>
<text x="156.64" y="199.41" fill="#ffffff" stroke="#ffffff" stroke-width="0.25">0.27</text>
<text x="178.80" y="199.41" fill="#262626" stroke="#262626" stroke-width="0.25">-0.02</text>
<text x="200.96" y="199.41" fill="#ffffff" stroke="#ffffff" stroke-width="0.25">0.26</text>
<text x="223.11" y="199.41" fill="#ffffff" stroke="#ffffff" stroke-width="0.25">0.29</text>
<text x="245.27" y="199.41" fill="#ffffff" stroke="#ffffff" stroke-width="0.25">0.7</text>
<text x="267.42" y="199.41" fill="#ffffff" stroke="#ffffff" stroke-width="0.25">1</text>
<text x="289.58" y="199.41" fill="#ffffff" stroke="#ffffff" stroke-width="0.25">0.57</text>
<text x="311.73" y="199.41" fill="#ffffff" stroke="#ffffff" stroke-width="0.25">0.27</text>
<text x="333.89" y="199.41" fill="#ffffff" stroke="#ffffff" stroke-width="0.25">0.47</text>
<text x="356.04" y="199.41" fill="#ffffff" stroke="#ffffff" stroke-width="0.25">0.4</text>
<text x="378.20" y="199.41" fill="#ffffff" stroke="#ffffff" stroke-width="0.25">0.39</text>
<text x="400.36" y="199.41" fill="#ffffff" stroke="#ffffff" stroke-width="0.25">0.062</text>
<text x="422.51" y="199.41" fill="#ffffff" stroke="#ffffff" stroke-width="0.25">0.062</text>
<text x="444.67" y="199.41" fill="#ffffff" stroke="#ffffff" stroke-width="0.25">0.094</text>
<text x="466.82" y="199.41" fill="#ffffff" stroke="#ffffff" stroke-width="0.25">0.12</text>
<text x="90.18" y="221.89" fill="#ffffff" stroke="#ffffff" stroke-width="0.25">0.031</text>
<text x="112.33" y="221.89" fill="#ffffff" stroke="#ffffff" stroke-width="0.25">0.064</text>
<text x="134.49" y="221.89" fill="#262626" stroke="#262626" stroke-width="0.25">-0.02</text>
<text x="156.64" y="221.89" fill="#ffffff" stroke="#ffffff" stroke-width="0.25">0.077</text>
<text x="178.80" y="221.89" fill="#262626" stroke="#262626" stroke-width="0.25">-0.0059</text>
<text x="200.96" y="221.89" fill="#ffffff" stroke="#ffffff" stroke-width="0.25">0.094</text>
<text x="223.11" y="221.89" fill="#ffffff" stroke="#ffffff" stroke-width="0.25">0.043</text>
<text x="245.27" y="221.89" fill="#ffffff" stroke="#ffffff" stroke-width="0.25">0.31</text>
<text x="267.42" y="221.89" fill="#ffffff" stroke="#ffffff" stroke-width="0.25">0.57</text>
<text x="289.58" y="221.89" fill="#ffffff" stroke="#ffffff" stroke-width="0.25">1</text>
<text x="311.73" y="221.89" fill="#ffffff" stroke="#ffffff" stroke-width="0.25">0.18</text>
<text x="333.89" y="221.89" fill="#ffffff" stroke="#ffffff" stroke-width="0.25">0.63</text>
<text x="356.04" y="221.89" fill="#ffffff" stroke="#ffffff" stroke-width="0.25">0.62</text>
<text x="378.20" y="221.89" fill="#ffffff" stroke="#ffffff" stroke-width="0.25">0.6</text>
<text x="400.36" y="221.89" fill="#262626" stroke="#262626" stroke-width="0.25">-0.014</text>
<text x="422.51" y="221.89" fill="#262626" stroke="#262626" stroke-width="0.25">0.0054</text>
<text x="444.67" y="221.89" fill="#262626" stroke="#262626" stroke-width="0.25">-0.073</text>
<text x="466.82" y="221.89" fill="#ffffff" stroke="#ffffff" stroke-width="0.25">0.041</text>
<text x="90.18" y="244.38" fill="#262626" stroke="#262626" stroke-width="0.25">-0.19</text>
<text x="112.33" y="244.38" fill="#ffffff" stroke="#ffffff" stroke-width="0.25">0.19</text>
<text x="134.49" y="244.38" fill="#262626" stroke="#262626" stroke-width="0.25">-0.24</text>
<text x="156.64" y="244.38" fill="#ffffff" stroke="#ffffff" stroke-width="0.25">0.19</text>
<text x="178.80" y="244.38" fill="#262626" stroke="#262626" stroke-width="0.25">-0.0051</text>
<text x="200.96" y="244.38" fill="#ffffff" stroke="#ffffff" stroke-width="0.25">0.094</text>
<text x="223.11" y="244.38" fill="#ffffff" stroke="#ffffff" stroke-width="0.25">0.33</text>
<text x="245.27" y="244.38" fill="#ffffff" stroke="#ffffff" stroke-width="0.25">0.46</text>
<text x="267.42" y="244.38" fill="#ffffff" stroke="#ffffff" stroke-width="0.25">0.27</text>
<text x="289.58" y="244.38" fill="#ffffff" stroke="#ffffff" stroke-width="0.25">0.18</text>
<text x="311.73" y="244.38" fill="#ffffff" stroke="#ffffff" stroke-width="0.25">1</text>
<text x="333.89" y="244.38" fill="#ffffff" stroke="#ffffff" stroke-width="0.25">0.42</text>
<text x="356.04" y="244.38" fill="#ffffff" stroke="#ffffff" stroke-width="0.25">0.11</text>
<text x="378.20" y="244.38" fill="#ffffff" stroke="#ffffff" stroke-width="0.25">0.058</text>
<text x="400.36" y="244.38" fill="#262626" stroke="#262626" stroke-width="0.25">-0.001</text>
<text x="422.51" y="244.38" fill="#ffffff" stroke="#ffffff" stroke-width="0.25">0.11</text>
<text x="444.67" y="244.38" fill="#ffffff" stroke="#ffffff" stroke-width="0.25">0.056</text>
<text x="466.82" y="244.38" fill="#ffffff" stroke="#ffffff" stroke-width="0.25">0.16</text>
<text x="90.18" y="266.87" fill="#ffffff" stroke="#ffffff" stroke-width="0.25">0.042</text>
<text x="112.33" y="266.87" fill="#ffffff" stroke="#ffffff" stroke-width="0.25">0.052</text>
<text x="134.49" y="266.87" fill="#262626" stroke="#262626" stroke-width="0.25">-0.0064</text>
<text x="156.64" y="266.87" fill="#ffffff" stroke="#ffffff" stroke-width="0.25">0.072</text>
<text x="178.80" y="266.87" fill="#262626" stroke="#262626" stroke-width="0.25">-0.0019</text>
<text x="200.96" y="266.87" fill="#ffffff" stroke="#ffffff" stroke-width="0.25">0.047</text>
<text x="223.11" y="266.87" fill="#ffffff" stroke="#ffffff" stroke-width="0.25">0.083</text>
<text x="245.27" y="266.87" fill="#ffffff" stroke="#ffffff" stroke-width="0.25">0.3</text>
<text x="267.42" y="266.87" fill="#ffffff" stroke="#ffffff" stroke-width="0.25">0.47</text>
<text x="289.58" y="266.87" fill="#ffffff" stroke="#ffffff" stroke-width="0.25">0.63</text>
<text x="311.73" y="266.87" fill="#ffffff" stroke="#ffffff" stroke-width="0.25">0.42</text>
<text x="333.89" y="266.87" fill="#ffffff" stroke="#ffffff" stroke-width="0.25">1</text>
<text x="356.04" y="266.87" fill="#ffffff" stroke="#ffffff" stroke-width="0.25">0.9</text>
<text x="378.20" y="266.87" fill="#ffffff" stroke="#ffffff" stroke-width="0.25">0.86</text>
<text x="400.36" y="266.87" fill="#262626" stroke="#262626" stroke-width="0.25">-0.02</text>
<text x="422.51" y="266.87" fill="#262626" stroke="#262626" stroke-width="0.25">0.017</text>
<text x="444.67" y="266.87" fill="#262626" stroke="#262626" stroke-width="0.25">-0.12</text>
<text x="466.82" y="266.87" fill="#ffffff" stroke="#ffffff" stroke-width="0.25">0.075</text>
<text x="90.18" y="289.36" fill="#ffffff" stroke="#ffffff" stroke-width="0.25">0.023</text>
<text x="112.33" y="289.36" fill="#262626" stroke="#262626" stroke-width="0.25">0.017</text>
<text x="134.49" y="289.36" fill="#ffffff" stroke="#ffffff" stroke-width="0.25">0.023</text>
<text x="156.64" y="289.36" fill="#262626" stroke="#262626" stroke-width="0.25">0.017</text>
<text x="178.80" y="289.36" fill="#262626" stroke="#262626" stroke-width="0.25">0.0027</text>
<text x="200.96" y="289.36" fill="#ffffff" stroke="#ffffff" stroke-width="0.25">0.024</text>
<text x="223.11" y="289.36" fill="#262626" stroke="#262626" stroke-width="0.25">-0.035</text>
<text x="245.27" y="289.36" fill="#ffffff" stroke="#ffffff" stroke-width="0.25">0.13</text>
<text x="267.42" y="289.36" fill="#ffffff" stroke="#ffffff" stroke-width="0.25">0.4</text>
<text x="289.58" y="289.36" fill="#ffffff" stroke="#ffffff" stroke-width="0.25">0.62</text>
<text x="311.73" y="289.36" fill="#ffffff" stroke="#ffffff" stroke-width="0.25">0.11</text>
<text x="333.89" y="289.36" fill="#ffffff" stroke="#ffffff" stroke-width="0.25">0.9</text>
<text x="356.04" y="289.36" fill="#ffffff" stroke="#ffffff" stroke-width="0.25">1</text>
<text x="378.20" y="289.36" fill="#ffffff" stroke="#ffffff" stroke-width="0.25">0.99</text>
<text x="400.36" y="289.36" fill="#262626" stroke="#262626" stroke-width="0.25">-0.029</text>
<text x="422.51" y="289.36" fill="#262626" stroke="#262626" stroke-width="0.25">-0.025</text>
<text x="444.67" y="289.36" fill="#262626" stroke="#262626" stroke-width="0.25">-0.17</text>
<text x="466.82" y="289.36" fill="#262626" stroke="#262626" stroke-width="0.25">0.017</text>
<text x="90.18" y="311.85" fill="#262626" stroke="#262626" stroke-width="0.25">0.006</text>
<text x="112.33" y="311.85" fill="#ffffff" stroke="#ffffff" stroke-width="0.25">0.023</text>
<text x="134.49" y="311.85" fill="#262626" stroke="#262626" stroke-width="0.25">0.012</text>
<text x="156.64" y="311.85" fill="#262626" stroke="#262626" stroke-width="0.25">0.018</text>
<text x="178.80" y="311.85" fill="#262626" stroke="#262626" stroke-width="0.25">0.004</text>
<text x="200.96" y="311.85" fill="#ffffff" stroke="#ffffff" stroke-width="0.25">0.029</text>
<text x="223.11" y="311.85" fill="#262626" stroke="#262626" stroke-width="0.25">-0.043</text>
<text x="245.27" y="311.85" fill="#ffffff" stroke="#ffffff" stroke-width="0.25">0.11</text>
<text x="267.42" y="311.85" fill="#ffffff" stroke="#ffffff" stroke-width="0.25">0.39</text>
<text x="289.58" y="311.85" fill="#ffffff" stroke="#ffffff" stroke-width="0.25">0.6</text>
<text x="311.73" y="311.85" fill="#ffffff" stroke="#ffffff" stroke-width="0.25">0.058</text>
<text x="333.89" y="311.85" fill="#ffffff" stroke="#ffffff" stroke-width="0.25">0.86</text>
<text x="356.04" y="311.85" fill="#ffffff" stroke="#ffffff" stroke-width="0.25">0.99</text>
<text x="378.20" y="311.85" fill="#ffffff" stroke="#ffffff" stroke-width="0.25">1</text>
<text x="400.36" y="311.85" fill="#262626" stroke="#262626" stroke-width="0.25">-0.027</text>
<text x="422.51" y="311.85" fill="#262626" stroke="#262626" stroke-width="0.25">-0.027</text>
<text x="444.67" y="311.85" fill="#262626" stroke="#262626" stroke-width="0.25">-0.16</text>
<text x="466.82" y="311.85" fill="#262626" stroke="#262626" stroke-width="0.25">-0.041</text>
<text x="90.18" y="334.34" fill="#262626" stroke="#262626" stroke-width="0.25">-0.11</text>
<text x="112.33" y="334.34" fill="#262626" stroke="#262626" stroke-width="0.25">-0.0067</text>
<text x="134.49" y="334.34" fill="#262626" stroke="#262626" stroke-width="0.25">-0.025</text>
<text x="156.64" y="334.34" fill="#262626" stroke="#262626" stroke-width="0.25">-0.059</text>
<text x="178.80" y="334.34" fill="#262626" stroke="#262626" stroke-width="0.25">0.015</text>
<text x="200.96" y="334.34" fill="#262626" stroke="#262626" stroke-width="0.25">-0.048</text>
<text x="223.11" y="334.34" fill="#ffffff" stroke="#ffffff" stroke-width="0.25">0.46</text>
<text x="245.27" y="334.34" fill="#ffffff" stroke="#ffffff" stroke-width="0.25">0.12</text>
<text x="267.42" y="334.34" fill="#ffffff" stroke="#ffffff" stroke-width="0.25">0.062</text>
<text x="289.58" y="334.34" fill="#262626" stroke="#262626" stroke-width="0.25">-0.014</text>
<text x="311.73" y="334.34" fill="#262626" stroke="#262626" stroke-width="0.25">-0.001</text>
<text x="333.89" y="334.34" fill="#262626" stroke="#262626" stroke-width="0.25">-0.02</text>
<text x="356.04" y="334.34" fill="#262626" stroke="#262626" stroke-width="0.25">-0.029</text>
<text x="378.20" y="334.34" fill="#262626" stroke="#262626" stroke-width="0.25">-0.027</text>
<text x="400.36" y="334.34" fill="#ffffff" stroke="#ffffff" stroke-width="0.25">1</text>
<text x="422.51" y="334.34" fill="#ffffff" stroke="#ffffff" stroke-width="0.25">0.55</text>
<text x="444.67" y="334.34" fill="#ffffff" stroke="#ffffff" stroke-width="0.25">0.44</text>
<text x="466.82" y="334.34" fill="#ffffff" stroke="#ffffff" stroke-width="0.25">0.21</text>
<text x="90.18" y="356.83" fill="#262626" stroke="#262626" stroke-width="0.25">-0.11</text>
<text x="112.33" y="356.83" fill="#262626" stroke="#262626" stroke-width="0.25">0.0044</text>
<text x="134.49" y="356.83" fill="#262626" stroke="#262626" stroke-width="0.25">-0.046</text>
<text x="156.64" y="356.83" fill="#262626" stroke="#262626" stroke-width="0.25">-0.013</text>
<text x="178.80" y="356.83" fill="#262626" stroke="#262626" stroke-width="0.25">0.0049</text>
<text x="200.96" y="356.83" fill="#262626" stroke="#262626" stroke-width="0.25">-0.019</text>
<text x="223.11" y="356.83" fill="#ffffff" stroke="#ffffff" stroke-width="0.25">0.23</text>
<text x="245.27" y="356.83" fill="#ffffff" stroke="#ffffff" stroke-width="0.25">0.18</text>
<text x="267.42" y="356.83" fill="#ffffff" stroke="#ffffff" stroke-width="0.25">0.062</text>
<text x="289.58" y="356.83" fill="#262626" stroke="#262626" stroke-width="0.25">0.0054</text>
<text x="311.73" y="356.83" fill="#ffffff" stroke="#ffffff" stroke-width="0.25">0.11</text>
<text x="333.89" y="356.83" fill="#262626" stroke="#262626" stroke-width="0.25">0.017</text>
<text x="356.04" y="356.83" fill="#262626" stroke="#262626" stroke-width="0.25">-0.025</text>
<text x="378.20" y="356.83" fill="#262626" stroke="#262626" stroke-width="0.25">-0.027</text>
<text x="400.36" y="356.83" fill="#ffffff" stroke="#ffffff" stroke-width="0.25">0.55</text>
<text x="422.51" y="356.83" fill="#ffffff" stroke="#ffffff" stroke-width="0.25">1</text>
<text x="444.67" y="356.83" fill="#ffffff" stroke="#ffffff" stroke-width="0.25">0.55</text>
<text x="466.82" y="356.83" fill="#ffffff" stroke="#ffffff" stroke-width="0.25">0.27</text>
<text x="90.18" y="379.32" fill="#262626" stroke="#262626" stroke-width="0.25">-0.11</text>
<text x="112.33" y="379.32" fill="#262626" stroke="#262626" stroke-width="0.25">0.0091</text>
<text x="134.49" y="379.32" fill="#262626" stroke="#262626" stroke-width="0.25">-0.055</text>
<text x="156.64" y="379.32" fill="#262626" stroke="#262626" stroke-width="0.25">-0.00084</text>
<text x="178.80" y="379.32" fill="#262626" stroke="#262626" stroke-width="0.25">-0.014</text>
<text x="200.96" y="379.32" fill="#262626" stroke="#262626" stroke-width="0.25">-0.017</text>
<text x="223.11" y="379.32" fill="#ffffff" stroke="#ffffff" stroke-width="0.25">0.21</text>
<text x="245.27" y="379.32" fill="#ffffff" stroke="#ffffff" stroke-width="0.25">0.1</text>
<text x="267.42" y="379.32" fill="#ffffff" stroke="#ffffff" stroke-width="0.25">0.094</text>
<text x="289.58" y="379.32" fill="#262626" stroke="#262626" stroke-width="0.25">-0.073</text>
<text x="311.73" y="379.32" fill="#ffffff" stroke="#ffffff" stroke-width="0.25">0.056</text>
<text x="333.89" y="379.32" fill="#262626" stroke="#262626" stroke-width="0.25">-0.12</text>
<text x="356.04" y="379.32" fill="#262626" stroke="#262626" stroke-width="0.25">-0.17</text>
<text x="378.20" y="379.32" fill="#262626" stroke="#262626" stroke-width="0.25">-0.16</text>
<text x="400.36" y="379.32" fill="#ffffff" stroke="#ffffff" stroke-width="0.25">0.44</text>
<text x="422.51" y="379.32" fill="#ffffff" stroke="#ffffff" stroke-width="0.25">0.55</text>
<text x="444.67" y="379.32" fill="#ffffff" stroke="#ffffff" stroke-width="0.25">1</text>
<text x="466.82" y="379.32" fill="#ffffff" stroke="#ffffff" stroke-width="0.25">0.28</text>
<text x="90.18" y="401.81" fill="#262626" stroke="#262626" stroke-width="0.25">-0.11</text>
<text x="112.33" y="401.81" fill="#ffffff" stroke="#ffffff" stroke-width="0.25">0.18</text>
<text x="134.49" y="401.81" fill="#262626" stroke="#262626" stroke-width="0.25">-0.19</text>
<text x="156.64" y="401.81" fill="#ffffff" stroke="#ffffff" stroke-width="0.25">0.19</text>
<text x="178.80" y="401.81" fill="#262626" stroke="#262626" stroke-width="0.25">0.016</text>
<text x="200.96" y="401.81" fill="#ffffff" stroke="#ffffff" stroke-width="0.25">0.16</text>
<text x="223.11" y="401.81" fill="#ffffff" stroke="#ffffff" stroke-width="0.25">0.16</text>
<text x="245.27" y="401.81" fill="#ffffff" stroke="#ffffff" stroke-width="0.25">0.2</text>
<text x="267.42" y="401.81" fill="#ffffff" stroke="#ffffff" stroke-width="0.25">0.12</text>
<text x="289.58" y="401.81" fill="#ffffff" stroke="#ffffff" stroke-width="0.25">0.041</text>
<text x="311.73" y="401.81" fill="#ffffff" stroke="#ffffff" stroke-width="0.25">0.16</text>
<text x="333.89" y="401.81" fill="#ffffff" stroke="#ffffff" stroke-width="0.25">0.075</text>
<text x="356.04" y="401.81" fill="#262626" stroke="#262626" stroke-width="0.25">0.017</text>
<text x="378.20" y="401.81" fill="#262626" stroke="#262626" stroke-width="0.25">-0.041</text>
<text x="400.36" y="401.81" fill="#ffffff" stroke="#ffffff" stroke-width="0.25">0.21</text>
<text x="422.51" y="401.81" fill="#ffffff" stroke="#ffffff" stroke-width="0.25">0.27</text>
<text x="444.67" y="401.81" fill="#ffffff" stroke="#ffffff" stroke-width="0.25">0.28</text>
<text x="466.82" y="401.81" fill="#ffffff" stroke="#ffffff" stroke-width="0.25">1</text>
<defs><linearGradient id="cb" x1="0" y1="0" x2="0" y2="1">
<stop offset="0.0000" stop-color="#081d58"/>
<stop offset="0.0156" stop-color="#0b1f5e"/>
<stop offset="0.0312" stop-color="#0e2265"/>
<stop offset="0.0469" stop-color="#12256d"/>
<stop offset="0.0625" stop-color="#162874"/>
<stop offset="0.0781" stop-color="#192b7c"/>
<stop offset="0.0938" stop-color="#1d2e83"/>
<stop offset="0.1094" stop-color="#21308b"/>
<stop offset="0.1250" stop-color="#243392"/>
<stop offset="0.1406" stop-color="#253896"/>
<stop offset="0.1562" stop-color="#243d98"/>
<stop offset="0.1719" stop-color="#24439b"/>
<stop offset="0.1875" stop-color="#24489d"/>
<stop offset="0.2031" stop-color="#234da0"/>
<stop offset="0.2188" stop-color="#2352a3"/>
<stop offset="0.2344" stop-color="#2258a5"/>
<stop offset="0.2500" stop-color="#225da8"/>
<stop offset="0.2656" stop-color="#2163aa"/>
<stop offset="0.2812" stop-color="#216aad"/>
<stop offset="0.2969" stop-color="#2070b0"/>
<stop offset="0.3125" stop-color="#2076b3"/>
<stop offset="0.3281" stop-color="#1f7db6"/>
<stop offset="0.3438" stop-color="#1e83ba"/>
<stop offset="0.3594" stop-color="#1e8abd"/>
<stop offset="0.3750" stop-color="#1d90c0"/>
<stop offset="0.3906" stop-color="#2195c0"/>
<stop offset="0.4062" stop-color="#259ac1"/>
<stop offset="0.4219" stop-color="#2a9ec1"/>
<stop offset="0.4375" stop-color="#2ea3c2"/>
<stop offset="0.4531" stop-color="#33a7c2"/>
<stop offset="0.4688" stop-color="#37acc3"/>
<stop offset="0.4844" stop-color="#3cb1c3"/>
<stop offset="0.5000" stop-color="#40b5c4"/>
<stop offset="0.5156" stop-color="#48b9c3"/>
<stop offset="0.5312" stop-color="#50bbc2"/>
<stop offset="0.5469" stop-color="#57bec1"/>
<stop offset="0.5625" stop-color="#5fc1c0"/>
<stop offset="0.5781" stop-color="#67c4be"/>
<stop offset="0.5938" stop-color="#6fc7bd"/>
<stop offset="0.6094" stop-color="#76cabc"/>
<stop offset="0.6250" stop-color="#7ecdbb"/>
<stop offset="0.6406" stop-color="#87d0ba"/>
<stop offset="0.6562" stop-color="#90d4b9"/>
<stop offset="0.6719" stop-color="#99d7b8"/>
<stop offset="0.6875" stop-color="#a2dbb8"/>
<stop offset="0.7031" stop-color="#abdeb7"/>
<stop offset="0.7188" stop-color="#b4e2b6"/>
<stop offset="0.7344" stop-color="#bde5b5"/>
<stop offset="0.7500" stop-color="#c6e9b4"/>
<stop offset="0.7656" stop-color="#cbebb4"/>
<stop offset="0.7812" stop-color="#d0edb3"/>
<stop offset="0.7969" stop-color="#d5efb3"/>
<stop offset="0.8125" stop-color="#daf0b3"/>
<stop offset="0.8281" stop-color="#dff2b2"/>
<stop offset="0.8438" stop-color="#e3f4b2"/>
<stop offset="0.8594" stop-color="#e8f6b1"/>
<stop offset="0.8750" stop-color="#edf8b1"/>
<stop offset="0.8906" stop-color="#eff9b6"/>
<stop offset="0.9062" stop-color="#f1fabb"/>
<stop offset="0.9219" stop-color="#f4fbc0"/>
<stop offset="0.9375" stop-color="#f6fbc5"/>
<stop offset="0.9531" stop-color="#f8fcca"/>
<stop offset="0.9688" stop-color="#fafdcf"/>
<stop offset="0.9844" stop-color="#fdfed4"/>
<stop offset="1.0000" stop-color="#ffffd9"/>
</linearGradient></defs>
<rect x="502.80" y="6.25" width="20.20" height="404.85" fill="url(#cb)"/>
<line x1="523.00" x2="525.80" y1="6.25" y2="6.25" stroke="#333" stroke-width="0.7"/>
<line x1="523.00" x2="525.80" y1="60.60" y2="60.60" stroke="#333" stroke-width="0.7"/>
<line x1="523.00" x2="525.80" y1="114.95" y2="114.95" stroke="#333" stroke-width="0.7"/>
<line x1="523.00" x2="525.80" y1="169.30" y2="169.30" stroke="#333" stroke-width="0.7"/>
<line x1="523.00" x2="525.80" y1="223.65" y2="223.65" stroke="#333" stroke-width="0.7"/>
<line x1="523.00" x2="525.80" y1="278.00" y2="278.00" stroke="#333" stroke-width="0.7"/>
<line x1="523.00" x2="525.80" y1="332.35" y2="332.35" stroke="#333" stroke-width="0.7"/>
<line x1="523.00" x2="525.80" y1="386.70" y2="386.70" stroke="#333" stroke-width="0.7"/>
</svg>
<div class="tl" style="left:528.30px;top:3.45px;">1.00</div>
<div class="tl" style="left:528.30px;top:57.80px;">0.75</div>
<div class="tl" style="left:528.30px;top:112.15px;">0.50</div>
<div class="tl" style="left:528.30px;top:166.50px;">0.25</div>
<div class="tl" style="left:528.30px;top:220.85px;">0.00</div>
<div class="tl" style="left:528.30px;top:275.20px;">−0.25</div>
<div class="tl" style="left:528.30px;top:329.55px;">−0.50</div>
<div class="tl" style="left:528.30px;top:383.90px;">−0.75</div>
<div class="rl" style="right:476.00px;top:15.07px;">INLET_Temperature</div>
<div class="rl" style="right:476.00px;top:37.56px;">INLET_Humidity</div>
<div class="rl" style="right:476.00px;top:60.05px;">OUTLET_Temperature</div>
<div class="rl" style="right:476.00px;top:82.54px;">OUTLET_Humidity</div>
<div class="rl" style="right:476.00px;top:105.03px;">ozone</div>
<div class="rl" style="right:476.00px;top:127.51px;">Voltage</div>
<div class="rl" style="right:476.00px;top:150.00px;">Total_INLET_2.5</div>
<div class="rl" style="right:476.00px;top:172.49px;">Total_INLET_4</div>
<div class="rl" style="right:476.00px;top:194.98px;">Total_INLET_5</div>
<div class="rl" style="right:476.00px;top:217.47px;">Total_INLET_7</div>
<div class="rl" style="right:476.00px;top:239.96px;">Total_OUTLET_2.5</div>
<div class="rl" style="right:476.00px;top:262.45px;">Total_OUTLET_4</div>
<div class="rl" style="right:476.00px;top:284.94px;">Total_OUTLET_5</div>
<div class="rl" style="right:476.00px;top:307.43px;">Total_OUTLET_7</div>
<div class="rl" style="right:476.00px;top:329.91px;">M2.5_Efficiency_count</div>
<div class="rl" style="right:476.00px;top:352.40px;">PM4_Efficiency_count</div>
<div class="rl" style="right:476.00px;top:374.89px;">PM5_Efficiency_count</div>
<div class="rl" style="right:476.00px;top:397.38px;">PM7_Efficiency_count</div>
<div class="cl" style="left:86.98px;top:478.34px;">INLET_Temperature</div>
<div class="cl" style="left:109.13px;top:467.42px;">INLET_Humidity</div>
<div class="cl" style="left:131.29px;top:485.45px;">OUTLET_Temperature</div>
<div class="cl" style="left:153.44px;top:474.53px;">OUTLET_Humidity</div>
<div class="cl" style="left:175.60px;top:436.49px;">ozone</div>
<div class="cl" style="left:197.76px;top:440.64px;">Voltage</div>
<div class="cl" style="left:219.91px;top:467.31px;">Total_INLET_2.5</div>
<div class="cl" style="left:242.07px;top:461.98px;">Total_INLET_4</div>
<div class="cl" style="left:264.22px;top:461.98px;">Total_INLET_5</div>
<div class="cl" style="left:286.38px;top:461.98px;">Total_INLET_7</div>
<div class="cl" style="left:308.53px;top:474.42px;">Total_OUTLET_2.5</div>
<div class="cl" style="left:330.69px;top:469.08px;">Total_OUTLET_4</div>
<div class="cl" style="left:352.84px;top:469.08px;">Total_OUTLET_5</div>
<div class="cl" style="left:375.00px;top:469.08px;">Total_OUTLET_7</div>
<div class="cl" style="left:397.16px;top:491.26px;">PM2.5_Efficiency_count</div>
<div class="cl" style="left:419.31px;top:485.93px;">PM4_Efficiency_count</div>
<div class="cl" style="left:441.47px;top:485.93px;">PM5_Efficiency_count</div>
<div class="cl" style="left:463.62px;top:485.93px;">PM7_Efficiency_count</div>
</div></body></html>
